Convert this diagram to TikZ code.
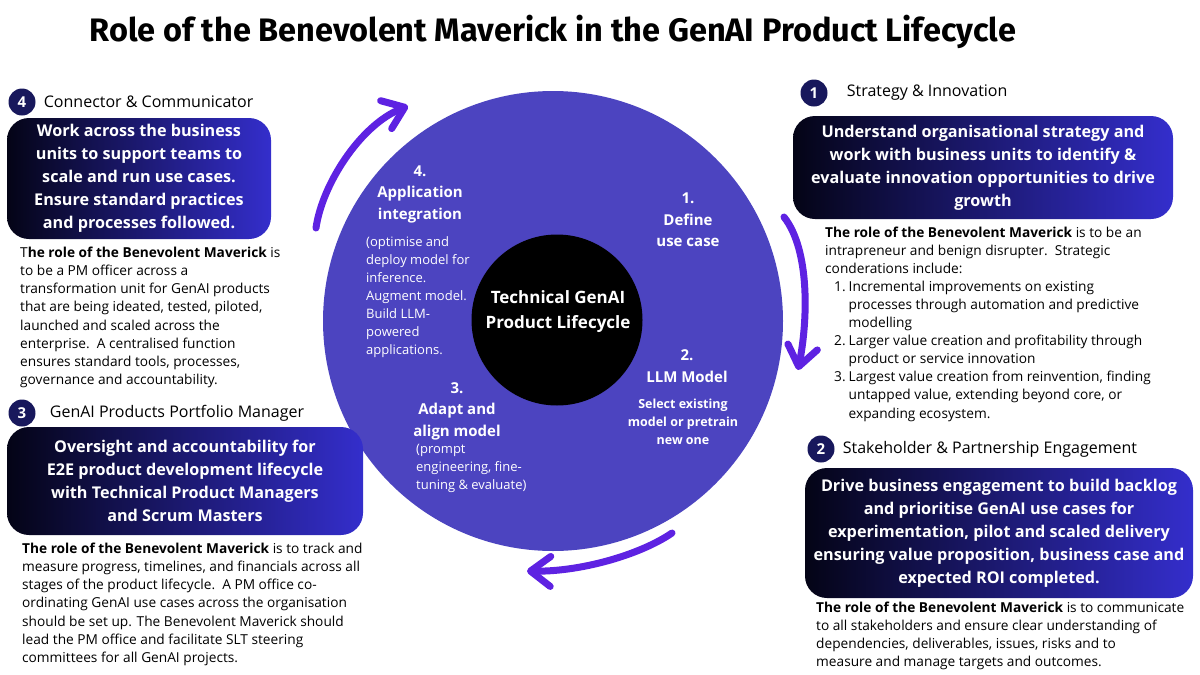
\documentclass[tikz,border=0pt]{standalone}
\usepackage{fontspec}
\setmainfont{Open Sans}
\newfontfamily\titlefont{Fira Sans}
\usetikzlibrary{positioning,arrows.meta}
\definecolor{cycleblue}{RGB}{76, 68, 192}
\definecolor{arrowviolet}{RGB}{94, 34, 226}
\definecolor{boxdark}{RGB}{4, 4, 22}
\definecolor{boxblue}{RGB}{52, 46, 204}
\definecolor{badgenavy}{RGB}{24, 24, 92}

\begin{document}
\begin{tikzpicture}[x=1pt, y=-1pt,
	rolebox/.style={rounded corners=22, left color=boxdark, right color=boxblue, text=white, align=center, inner sep=0, font=\fontsize{16.2}{23}\selectfont\bfseries},
	badge/.style={circle, fill=badgenavy, text=white, minimum size=27, inner sep=0, font=\fontsize{15}{15}\selectfont\bfseries},
	roletitle/.style={font=\fontsize{16}{18}\selectfont, inner sep=0},
	roletext/.style={anchor=north west, align=left, inner sep=0, font=\fontsize{13.7}{18.1}\selectfont},
	stagehead/.style={text=white, align=center, inner sep=0, font=\fontsize{15}{21.5}\selectfont\bfseries},
	stagenote/.style={text=white, anchor=north west, align=left, inner sep=0, font=\fontsize{13}{18}\selectfont},
	cyclearrow/.style={draw=arrowviolet, line width=7, line cap=round, -{Straight Barb[length=20pt, width=30pt, round]}}]
	\useasboundingbox (0,0) rectangle (1200,675);
	\node[inner sep=0] (title) at (553,32) {\titlefont\fontsize{32.5}{36}\selectfont\bfseries Role of the Benevolent Maverick in the GenAI Product Lifecycle};

	\node[circle, fill=cycleblue, minimum size=460, inner sep=0] (cycle) at (553,321) {};
	\node[circle, fill=black, minimum size=171, inner sep=0] (core) at (557,320) {};
	\node[text=white, align=center, inner sep=0, font=\fontsize{17}{25}\selectfont\bfseries] (coretext) at (558,312) {Technical GenAI\\Product Lifecycle};
	\node[stagehead] (stage1) at (688,220) {1.\\Define\\use case};
	\node[stagehead] (stage2) at (687,366) {2.\\LLM Model};
	\node[text=white, align=center, inner sep=0, font=\fontsize{12.5}{18}\selectfont\bfseries] (stage2note) at (683,422) {Select existing\\model or pretrain\\new one};
	\node[stagehead] (stage3) at (457,411) {3.\\Adapt and\\align model};
	\node[stagenote] (stage3note) at (416,444) {(prompt\\engineering, fine-\\tuning \& evaluate)};
	\node[stagehead] (stage4) at (420,194) {4.\\Application\\integration};
	\node[stagenote] (stage4note) at (366,236) {(optimise and\\deploy model for\\inference.\\Augment model.\\Build LLM-\\powered\\applications.};

	\coordinate (a1s) at (784,217);
	\coordinate (a1e) at (798,370);
	\coordinate (a2s) at (672,533);
	\coordinate (a2e) at (527,571);
	\coordinate (a3s) at (316,228);
	\coordinate (a3e) at (408,106);
	\draw[cyclearrow] (a1s) .. controls (810,250) and (808,320) .. (a1e);
	\draw[cyclearrow] (a2s) .. controls (640,555) and (580,572) .. (a2e);
	\draw[cyclearrow] (a3s) .. controls (322,185) and (360,125) .. (a3e);

	\node[badge] (badge1) at (814,93) {1};
	\node[roletitle, right=19pt of badge1] (head1) {Strategy \& Innovation};
	\node[rolebox, minimum width=380, minimum height=103] (box1) at (983,167.5) {Understand organisational strategy and\\work with business units to identify \&\\evaluate innovation opportunities to drive\\growth};
	\node[roletext, anchor=base west] (text1) at (825,237) {%
		\begin{tabular}[t]{@{\hspace{9pt}}l@{\hspace{3pt}}l@{}}
		\multicolumn{2}{@{}l@{}}{\bfseries The role of the Benevolent Maverick \mdseries is to be an}\\
		\multicolumn{2}{@{}l@{}}{intrapreneur and benign disrupter.\ \ Strategic}\\
		\multicolumn{2}{@{}l@{}}{conderations include:}\\
		1. & Incremental improvements on existing\\
		   & processes through automation and predictive\\
		   & modelling\\
		2. & Larger value creation and profitability through\\
		   & product or service innovation\\
		3. & Largest value creation from reinvention, finding\\
		   & untapped value, extending beyond core, or\\
		   & expanding ecosystem.
		\end{tabular}};

	\node[badge] (badge2) at (821,449) {2};
	\node[roletitle, right=8pt of badge2] (head2) {Stakeholder \& Partnership Engagement};
	\node[rolebox, minimum width=388, minimum height=130] (box2) at (999,533) {Drive business engagement to build backlog\\and prioritise GenAI use cases for\\experimentation, pilot and scaled delivery\\ensuring value proposition, business case and\\expected ROI completed.};
	\node[roletext] (text2) at (816,602) {{\bfseries The role of the Benevolent Maverick} is to communicate\\to all stakeholders and ensure clear understanding of\\dependencies, deliverables, issues, risks and to\\measure and manage targets and outcomes.};

	\node[badge] (badge3) at (22,413) {3};
	\node[roletitle, right=14pt of badge3] (head3) {GenAI Products Portfolio Manager};
	\node[rolebox, minimum width=356, minimum height=108] (box3) at (185,481) {Oversight and accountability for\\E2E product development lifecycle\\with Technical Product Managers\\and Scrum Masters};
	\node[roletext] (text3) at (22,543) {{\bfseries The role of the Benevolent Maverick} is to track and\\measure progress, timelines, and financials across all\\stages of the product lifecycle.\ \ A PM office co-\\ordinating GenAI use cases across the organisation\\should be set up. The Benevolent Maverick should\\lead the PM office and facilitate SLT steering\\committees for all GenAI projects.};

	\node[badge] (badge4) at (22,102) {4};
	\node[roletitle, right=8pt of badge4] (head4) {Connector \& Communicator};
	\node[rolebox, minimum width=264, minimum height=121] (box4) at (139,178.5) {Work across the business\\units to support teams to\\scale and run use cases.\\Ensure standard practices\\and processes followed.};
	\node[roletext] (text4) at (20,247) {T{\bfseries he role of the Benevolent Maverick} is\\to be a PM officer across a\\transformation unit for GenAI products\\that are being ideated, tested, piloted,\\launched and scaled across the\\enterprise.\ \ A centralised function\\ensures standard tools, processes,\\governance and accountability.};
\end{tikzpicture}
\end{document}
